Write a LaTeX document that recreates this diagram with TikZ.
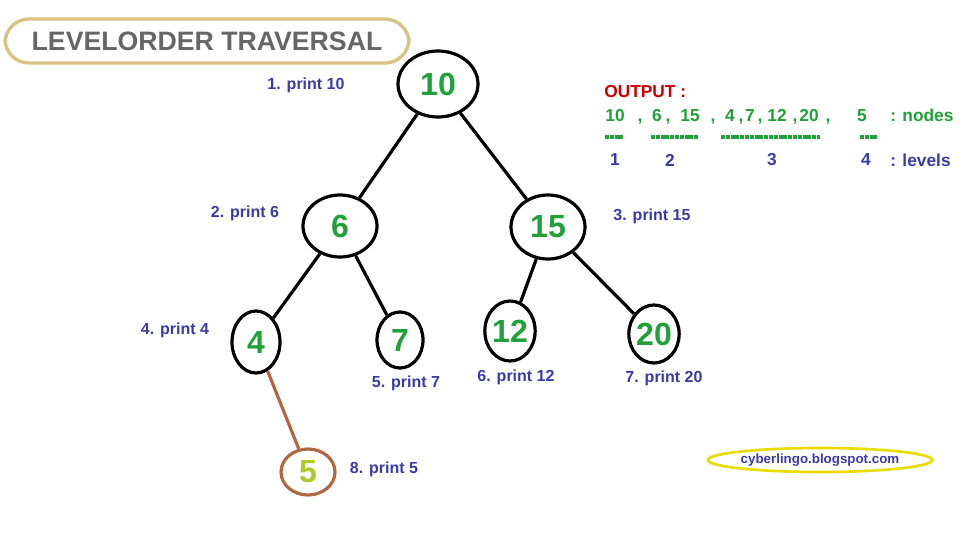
\documentclass[tikz,border=0pt]{standalone}
\usepackage{fontspec}
\setmainfont{Liberation Sans}
\usetikzlibrary{shapes.geometric}
\definecolor{numgreen}{RGB}{34,160,58}
\definecolor{lblblue}{RGB}{58,58,168}
\definecolor{brownedge}{RGB}{176,104,64}
\definecolor{tan}{RGB}{215,195,130}
\tikzset{
  treenode/.style={ellipse, draw, line width=2.4pt, inner sep=0pt, text=numgreen, font=\bfseries\fontsize{24}{24}\selectfont},
  printlbl/.style={text=lblblue, font=\bfseries\fontsize{12}{12}\selectfont, inner sep=0pt},
  outtxt/.style={font=\bfseries\fontsize{13}{13}\selectfont, inner sep=0pt, anchor=west},
  branch/.style={line width=2.4pt}
}
\begin{document}
\begin{tikzpicture}[x=0.75pt,y=-0.75pt]
    \useasboundingbox[fill=white] (0,0) rectangle (967,543);
    % title
    \node[draw=tan, line width=2.5pt, rounded corners=18pt, minimum width=404*0.75pt, minimum height=44*0.75pt,
      text=gray!80!black, font=\bfseries\fontsize{20}{20}\selectfont] (title) at (207,41) {LEVELORDER TRAVERSAL};
    % tree
    \node[treenode, minimum width=80*0.75pt, minimum height=66*0.75pt] (n10) at (438,84) {10};
    \node[treenode, minimum width=74*0.75pt, minimum height=62*0.75pt] (n6) at (340,226) {6};
    \node[treenode, minimum width=74*0.75pt, minimum height=64*0.75pt] (n15) at (548,227) {15};
    \node[treenode, minimum width=48*0.75pt, minimum height=62*0.75pt] (n4) at (256,342) {4};
    \node[treenode, minimum width=46*0.75pt, minimum height=56*0.75pt] (n7) at (400,340) {7};
    \node[treenode, minimum width=50*0.75pt, minimum height=60*0.75pt] (n12) at (510,331) {12};
    \node[treenode, minimum width=50*0.75pt, minimum height=58*0.75pt] (n20) at (654,334) {20};
    \node[treenode, draw=brownedge, text=yellow!70!green!90!black, minimum width=54*0.75pt, minimum height=46*0.75pt] (n5) at (308,472) {5};
    \draw[branch] (n10) -- (n6);
    \draw[branch] (n10) -- (n15);
    \draw[branch] (n6) -- (n4);
    \draw[branch] (n6) -- (n7);
    \draw[branch] (n15) -- (n12);
    \draw[branch] (n15) -- (n20);
    \draw[branch, brownedge] (n4) -- (n5);
    % print order
    \node[printlbl] (p1) at (306,85) {1. print 10};
    \node[printlbl] (p2) at (245,213) {2. print 6};
    \node[printlbl] (p3) at (652,216) {3. print 15};
    \node[printlbl] (p4) at (175,330) {4. print 4};
    \node[printlbl] (p5) at (406,383) {5. print 7};
    \node[printlbl] (p6) at (516,377) {6. print 12};
    \node[printlbl] (p7) at (664,378) {7. print 20};
    \node[printlbl] (p8) at (384,469) {8. print 5};
    % output
    \node[outtxt, text=red!80!black] (out) at (604,92) {OUTPUT :};
    \foreach \x/\t [count=\i] in {615/10, 640/{,}, 657/6, 668/{,}, 690/15, 713/{,}, 730/4, 741/{,}, 750/7, 760/{,}, 777/12, 795/{,}, 809/20, 828/{,}, 862/5}
      \node[outtxt, anchor=base, text=numgreen] (s\i) at (\x,121) {\t};
    \node[outtxt, text=numgreen] (nd) at (890,115) {: nodes};
    \foreach \a/\b in {605/623, 651/699, 721/820, 860/877}
      \draw[numgreen, line width=2.5pt, dash pattern=on 3pt off 0.6pt] (\a,137) -- (\b,137);
    \foreach \x/\l in {615/1, 670/2, 772/3, 866/4}
      \node[outtxt, anchor=center, text=lblblue] (lv\l) at (\x,160) {\l};
    \node[outtxt, text=lblblue] (lv) at (890,160) {: levels};
    % watermark
    \node[ellipse, draw=yellow!80!olive, line width=2pt, minimum width=196*0.75pt, minimum height=24*0.75pt, inner sep=0pt,
      text=lblblue, font=\bfseries\fontsize{10}{10}\selectfont] (mark) at (820,460) {cyberlingo.blogspot.com};
\end{tikzpicture}
\end{document}
